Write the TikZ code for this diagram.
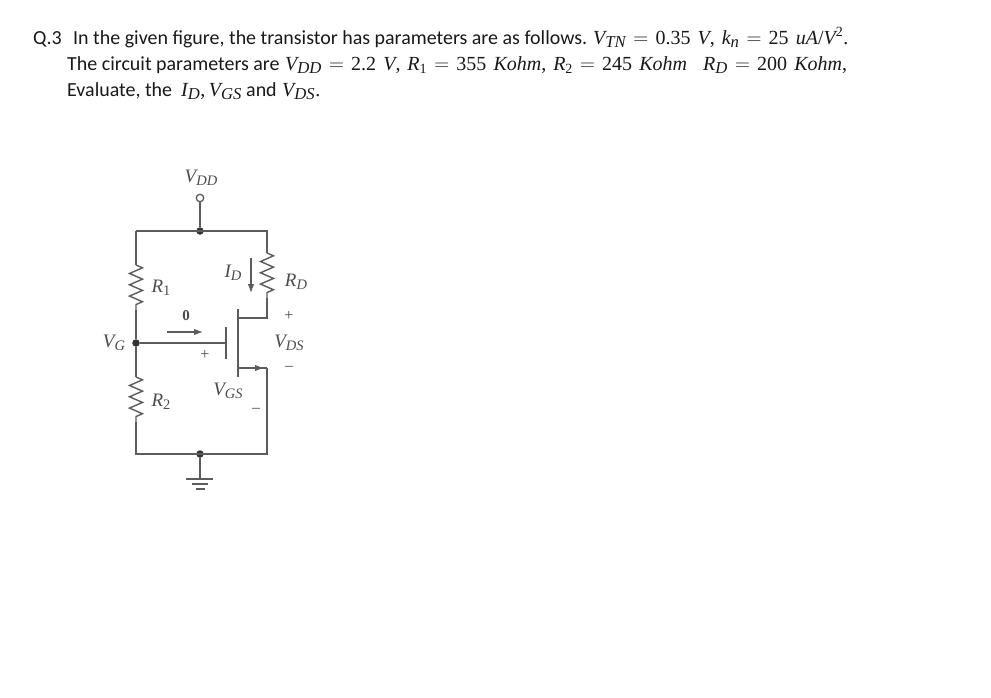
\documentclass[tikz,border=0pt]{standalone}
\usepackage{fontspec}
\setmainfont{Liberation Serif}
\usepackage[italic]{mathastext}
\setmainfont{Carlito}
\newfontfamily\figfont{Liberation Serif}
\usetikzlibrary{decorations.pathmorphing, arrows.meta}
\definecolor{wiregray}{gray}{0.36}
\definecolor{labelgray}{gray}{0.3}
\AtBeginDocument{\thickmuskip=6.2mu}
\tikzset{
	qtext/.style = {anchor=base west, inner sep=0pt, font=\fontsize{19.95}{23}\selectfont, text=black!90},
	qmath/.style = {anchor=base west, inner sep=0pt, font=\fontsize{20}{24}\selectfont, text=black!90},
	wire/.style = {draw=wiregray, line width=1.4pt},
	res/.style = {wire, decorate, decoration={zigzag, segment length=11.3pt, amplitude=6.5pt}},
	dot/.style = {circle, fill=black!80, inner sep=0pt, minimum size=7.5pt},
	lab/.style = {inner sep=0pt, text=labelgray, font=\figfont\fontsize{19}{22}\selectfont\itshape},
	sgn/.style = {inner sep=0pt, text=labelgray, font=\figfont\fontsize{16}{18}\selectfont},
	arr/.style = {-{Latex[length=9pt,width=6.5pt]}, draw=wiregray, line width=1.1pt},
}
\newcommand{\fsub}[2]{#1\raisebox{-3.5pt}{\fontsize{14.5}{16}\selectfont #2}}
\newcommand{\dgt}[1]{\mbox{\figfont #1}}
\newcommand{\dgs}[1]{\mbox{\figfont\fontsize{14}{16}\selectfont #1}}
\begin{document}
\begin{tikzpicture}[x=1pt, y=-1pt]
	\useasboundingbox[fill=white] (0,0) rectangle (991,697);
	% question text
	\node[qtext] (qnum) at (33,44) {Q.3};
	\node[qtext] (qone) at (73,44) {In the given figure, the transistor has parameters are as follows.};
	\node[qmath] (qvtn) at (593,44) {$V_{TN}=\dgt{0.35}\;V,\,k_n=\dgt{25}\;uA/V^{\dgs{2}}.$};
	\node[qtext] (qtwo) at (67,70) {The circuit parameters are};
	\node[qmath] (qvdd) at (285,70) {$V_{DD}=\dgt{2.2}\;V,\,R_{\dgs{1}}=\dgt{355}\;Kohm,\,R_{\dgs{2}}=\dgt{245}\;Kohm$};
	\node[qmath] (qrd) at (703,70) {$R_D=\dgt{200}\;Kohm,$};
	\node[qtext] (qthr) at (67,96) {Evaluate, the};
	\node[qmath] (qid) at (181,96) {$I_D,V_{GS}$};
	\node[qtext] (qand) at (246,96) {and};
	\node[qmath] (qvds) at (282,96) {$V_{DS}.$};
	% circuit points
	\coordinate (TL) at (136,231);
	\coordinate (TR) at (267,231);
	\coordinate (BL) at (136,454);
	\coordinate (BR) at (267,454);
	\coordinate (D) at (238,318);
	\coordinate (S) at (238,368);
	\coordinate (DR) at (267,318);
	\coordinate (SR) at (267,368);
	\coordinate (G) at (226,343);
	\node[dot] (top) at (200,231) {};
	\node[dot] (vg) at (136,343) {};
	\node[dot] (bot) at (200,454) {};
	\node[circle, draw=wiregray, line width=1.3pt, fill=white, inner sep=0pt, minimum size=7.5pt] (vdd) at (200,198) {};
	\coordinate (gnd) at (200,479);
	% wires
	\draw[wire] (vdd) -- (top);
	\draw[wire] (TL) -- (TR) -- (267,253) coordinate (rdtop);
	\draw[wire] (TL) -- (136,265) coordinate (r1a);
	\draw[res] (r1a) -- (136,310) coordinate (r1b);
	\draw[wire] (r1b) -- (vg) -- (136,377) coordinate (r2a);
	\draw[res] (r2a) -- (136,422) coordinate (r2b);
	\draw[wire] (r2b) -- (BL) -- (BR) -- (SR);
	\draw[res] (rdtop) -- (267,298) coordinate (rdb);
	\draw[wire] (rdb) -- (DR) -- (D);
	\draw[wire] (vg) -- (G);
	\draw[wire] (bot) -- (gnd);
	% transistor
	\draw[wire, line width=1.9pt] (238,309) -- (238,377);
	\draw[wire, line width=1.9pt] (226,327) -- (226,359);
	\draw[wire] (S) -- (SR);
	\draw[arr] (S) -- (264,368);
	% ground
	\draw[wire] (186,479) -- (213,479);
	\draw[wire] (192,484) -- (208,484);
	\draw[wire] (196,489) -- (205,489);
	% currents
	\draw[arr] (167,332) -- (203,332);
	\draw[arr] (251,258) -- (251,293);
	% labels
	\node[lab] (lvdd) at (201,178) {\fsub{V}{DD}};
	\node[lab] (lr1) at (161,288) {\fsub{R}{\upshape 1}};
	\node[lab] (lid) at (233,273) {\fsub{I}{D}};
	\node[lab] (lrd) at (296,282) {\fsub{R}{D}};
	\node[lab] (lvg) at (114,343) {\fsub{V}{G}};
	\node[lab] (lvds) at (289,343) {\fsub{V}{DS}};
	\node[lab] (lvgs) at (228,391) {\fsub{V}{GS}};
	\node[lab] (lr2) at (161,402) {\fsub{R}{\upshape 2}};
	\node[sgn, font=\figfont\bfseries\fontsize{15}{18}\selectfont] (lzero) at (186,316) {0};
	\node[sgn] (lp1) at (289,316) {+};
	\node[sgn] (lm1) at (289,368) {\textendash};
	\node[sgn] (lp2) at (205,355) {+};
	\node[sgn] (lm2) at (256,410) {\textendash};
\end{tikzpicture}
\end{document}
